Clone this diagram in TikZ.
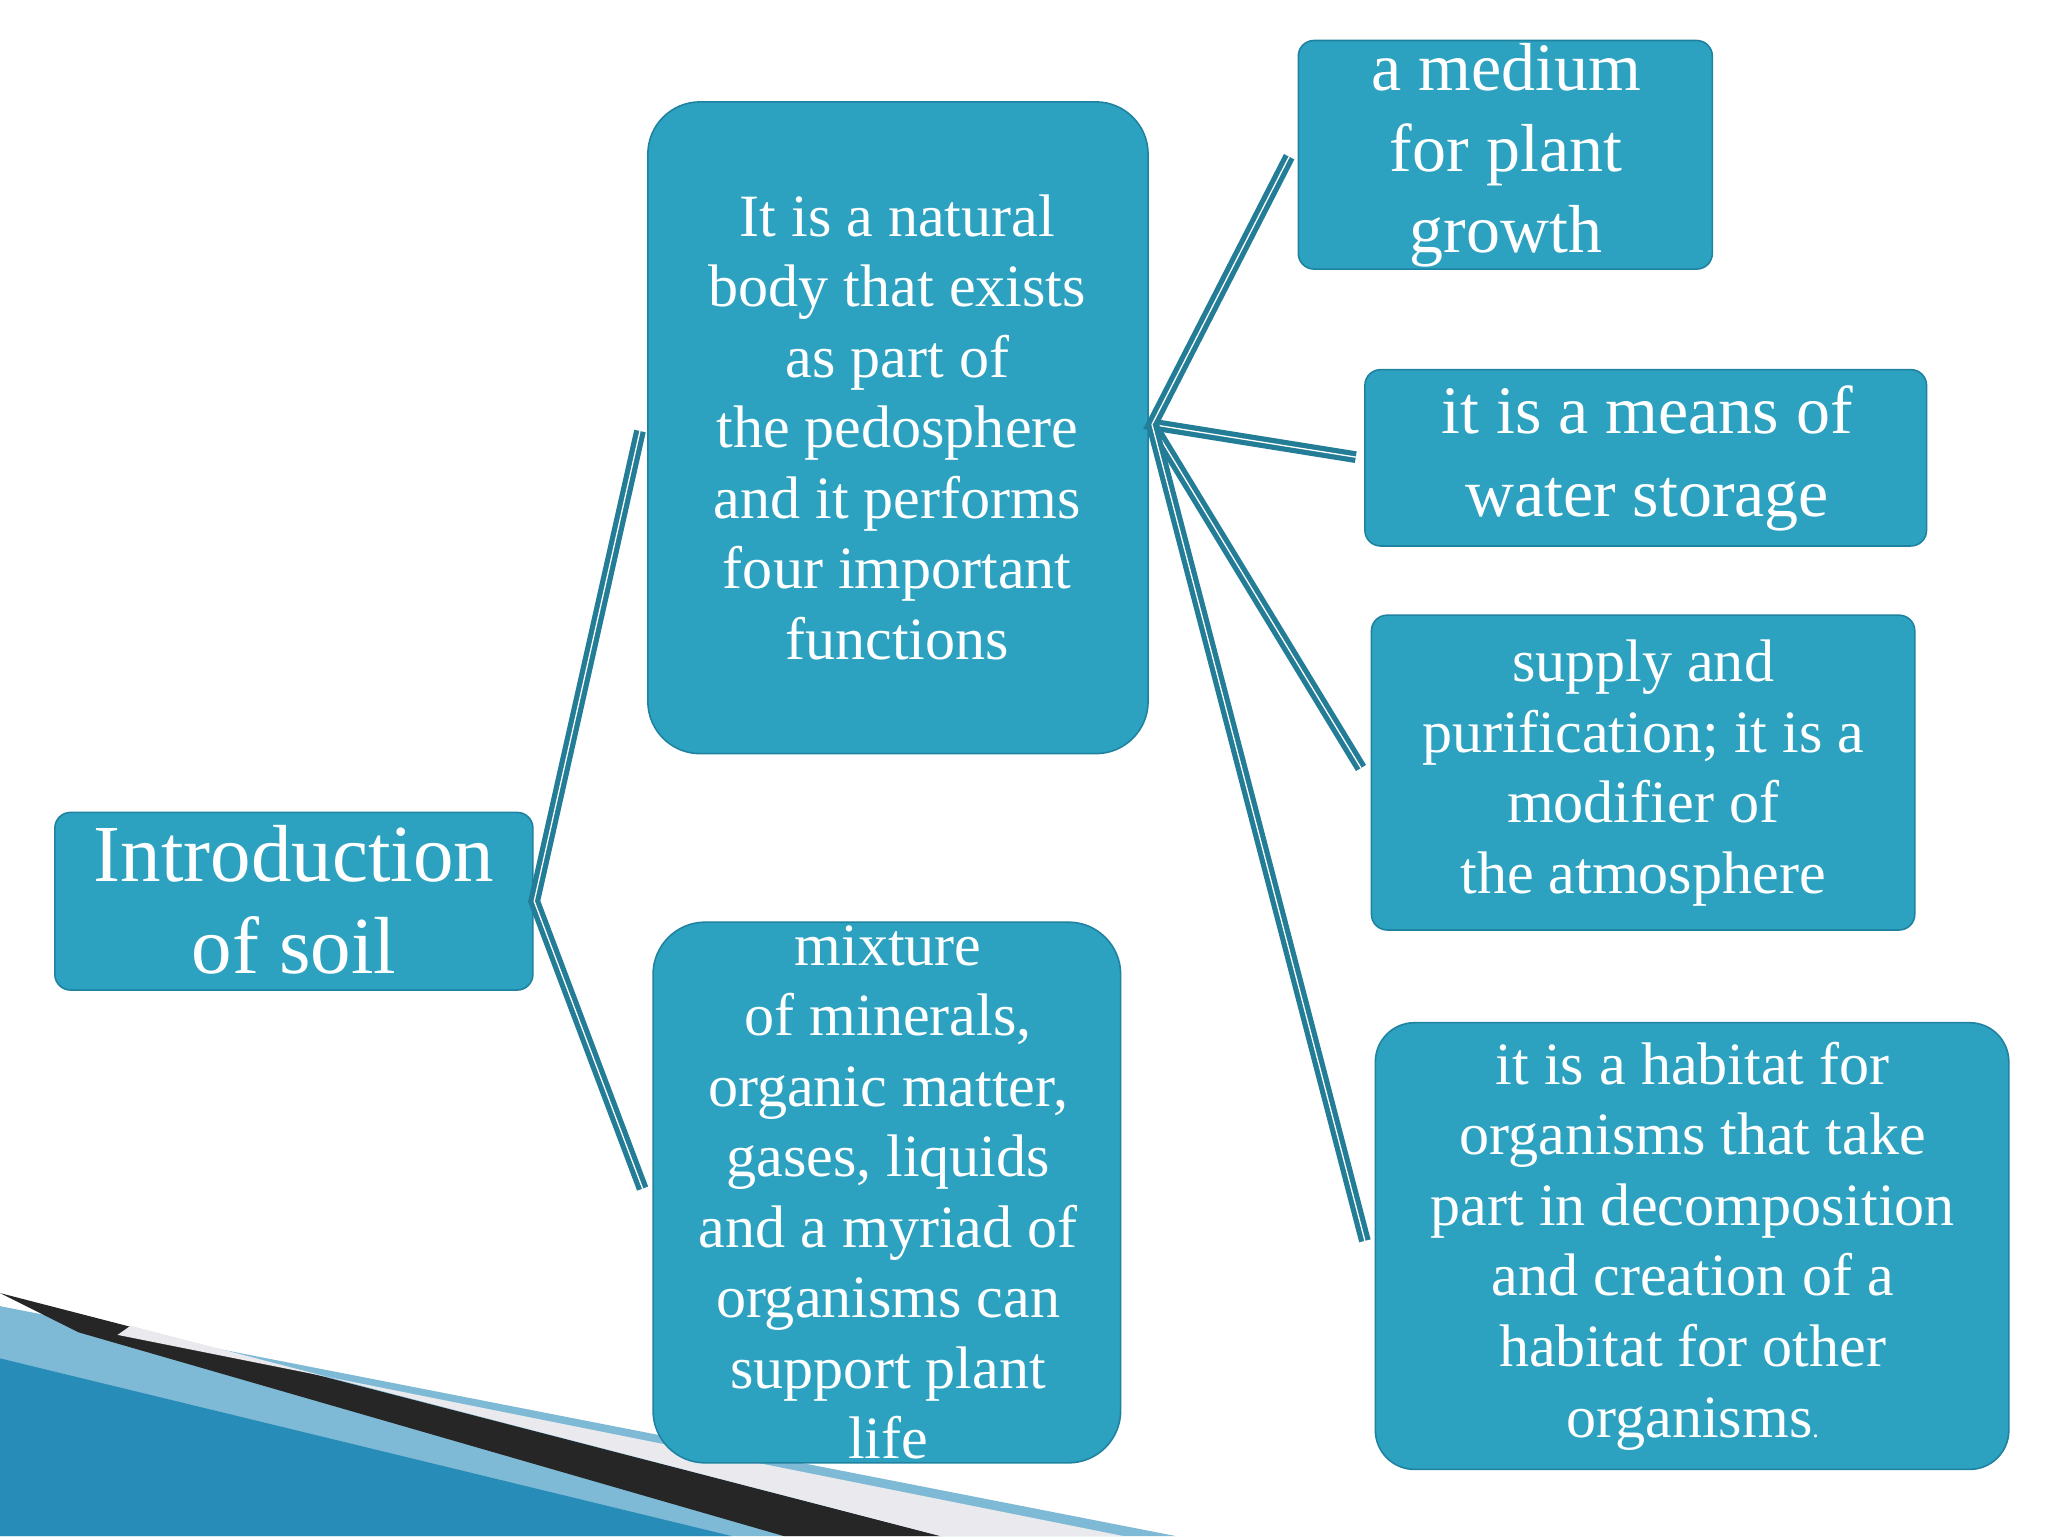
\documentclass[tikz,border=0pt]{standalone}
\usepackage{fontspec}
\setmainfont{Liberation Serif}
\definecolor{boxfill}{RGB}{44,162,192}
\definecolor{boxedge}{RGB}{30,130,160}
\definecolor{linkc}{RGB}{35,125,150}
\definecolor{wedge}{RGB}{40,140,185}
\begin{document}
\begin{tikzpicture}[x=1pt,y=-1pt,
  box/.style={fill=boxfill,draw=boxedge,line width=1.2pt,rounded corners=#1},
  box/.default=12pt,
  txt/.style={text=white,align=center,font=\fontsize{46}{54}\selectfont,inner sep=0pt},
  link/.style={draw=linkc,line width=4pt,double=white,double distance=1pt}]
\fill[white] (0,0) rectangle (1568,1176);
% bottom-left decoration
\fill[wedge!60!white] (0,1000) -- (900,1176) -- (0,1176) -- cycle;
\fill[wedge] (0,1040) -- (560,1176) -- (0,1176) -- cycle;
\fill[black!85] (0,990) -- (720,1176) -- (600,1176) -- (60,1020) -- cycle;
\fill[blue!10!gray!15] (90,1022) -- (860,1176) -- (720,1176) -- (100,1015) -- cycle;
% boxes
\draw[box] (42,622) rectangle (408,758); \coordinate (introbox) at (225,690);
\draw[box=40pt] (496,78) rectangle (879,577);
\draw[box=40pt] (500,706) rectangle (858,1120);
\draw[box] (994,31) rectangle (1311,206);
\draw[box] (1045,283) rectangle (1475,418);
\draw[box] (1050,471) rectangle (1466,712);
\draw[box=30pt] (1053,783) rectangle (1538,1125);
% text
\node[txt,font=\fontsize{62}{70}\selectfont] (intro) at (225,689) {Introduction\\of soil};
\node[txt] (body) at (687,327) {It is a natural\\body that exists\\as part of\\the pedosphere\\and it performs\\four important\\functions};
\node[txt] (mix) at (680,913) {mixture\\of minerals,\\organic matter,\\gases, liquids\\and a myriad of\\organisms can\\support plant\\life};
\node[txt,font=\fontsize{52}{62}\selectfont] (f1) at (1153,119) {a medium\\for plant\\growth};
\node[txt,font=\fontsize{52}{63}\selectfont] (f2) at (1261,351) {it is a means of\\water storage};
\node[txt] (f3) at (1258,592) {supply and\\purification; it is a\\modifier of\\the atmosphere};
\node[txt] (f4) at (1296,954) {it is a habitat for\\organisms that take\\part in decomposition\\and creation of a\\habitat for other\\organisms{\fontsize{20}{20}\selectfont.}};
% connectors
\coordinate (ia) at (409,690);
\coordinate (ba) at (490,330);
\coordinate (ma) at (492,910);
\coordinate (bo) at (882,325);
\coordinate (r1) at (987,120);
\coordinate (r2) at (1038,350);
\coordinate (r3) at (1042,588);
\coordinate (r4) at (1045,950);
\draw[link] (ba) -- (ia) -- (ma);
\draw[link] (r1) -- (bo) -- (r2);
\draw[link] (bo) -- (r3);
\draw[link] (bo) -- (r4);
\end{tikzpicture}
\end{document}
